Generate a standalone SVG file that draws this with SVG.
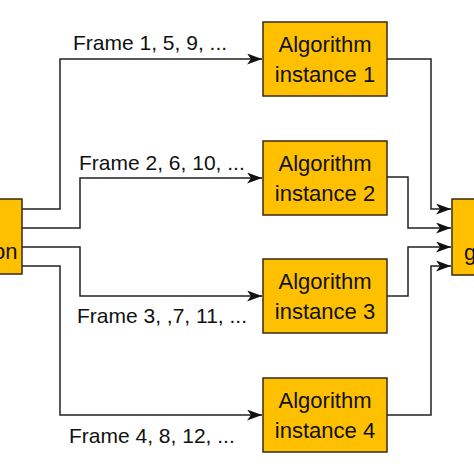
<svg xmlns="http://www.w3.org/2000/svg" width="474" height="474" viewBox="0 0 474 474">
<style>
.box{fill:#FFC000;stroke:#3a2a10;stroke-width:1.5}
.t{font-family:"Liberation Sans",Arial,sans-serif;font-size:22px;fill:#111}
.l{font-family:"Liberation Sans",Arial,sans-serif;font-size:21px;fill:#111}
.c{fill:none;stroke:#222;stroke-width:1.5}
</style>
<defs>
<marker id="ah" viewBox="0 0 15 11" refX="15" refY="5.5" markerWidth="15" markerHeight="11" markerUnits="userSpaceOnUse" orient="auto">
<path d="M0,0 L15,5.5 L0,11 L4,5.5 Z" fill="#111"/>
</marker>
</defs>
<rect width="474" height="474" fill="#fff"/>
<g id="connectors">
<path class="c" d="M22,209 H60 V59 H262" marker-end="url(#ah)"/>
<path class="c" d="M22,228 H80 V178 H262" marker-end="url(#ah)"/>
<path class="c" d="M22,247 H80 V296 H262" marker-end="url(#ah)"/>
<path class="c" d="M22,266 H60 V415 H262" marker-end="url(#ah)"/>
<path class="c" d="M387,59 H431 V209 H451" marker-end="url(#ah)"/>
<path class="c" d="M387,177 H408 V228 H451" marker-end="url(#ah)"/>
<path class="c" d="M387,296 H408 V247 H451" marker-end="url(#ah)"/>
<path class="c" d="M387,415 H431 V266 H451" marker-end="url(#ah)"/>
<text class="l" x="73" y="50">Frame 1, 5, 9, ...</text>
<text class="l" x="79" y="170">Frame 2, 6, 10, ...</text>
<text class="l" x="77" y="323">Frame 3, ,7, 11, ...</text>
<text class="l" x="69" y="443">Frame 4, 8, 12, ...</text>
</g>
<g id="source">
<rect class="box" x="-60" y="199" width="82" height="75"/>
<text class="t" x="17.5" y="259" text-anchor="end">on</text>
</g>
<g id="instance1">
<rect class="box" x="263" y="22" width="124" height="74"/>
<text class="t" x="325" y="52" text-anchor="middle">Algorithm</text>
<text class="t" x="325" y="82" text-anchor="middle">instance 1</text>
</g>
<g id="instance2">
<rect class="box" x="263" y="141" width="124" height="74"/>
<text class="t" x="325" y="171" text-anchor="middle">Algorithm</text>
<text class="t" x="325" y="201" text-anchor="middle">instance 2</text>
</g>
<g id="instance3">
<rect class="box" x="263" y="259" width="124" height="74"/>
<text class="t" x="325" y="289" text-anchor="middle">Algorithm</text>
<text class="t" x="325" y="319" text-anchor="middle">instance 3</text>
</g>
<g id="instance4">
<rect class="box" x="263" y="378" width="124" height="74"/>
<text class="t" x="325" y="408" text-anchor="middle">Algorithm</text>
<text class="t" x="325" y="438" text-anchor="middle">instance 4</text>
</g>
<g id="merge">
<rect class="box" x="452" y="199" width="80" height="76"/>
<text class="t" x="464" y="260">g</text>
</g>
</svg>
